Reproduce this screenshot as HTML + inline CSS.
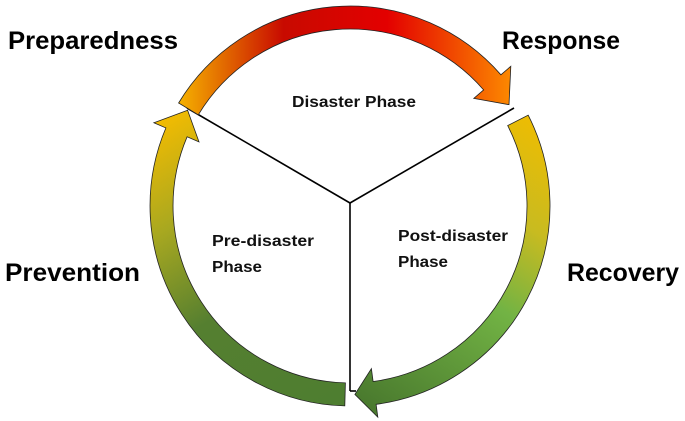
<!DOCTYPE html>
<html><head><meta charset="utf-8"><style>
html,body{margin:0;padding:0;background:#fff;}
svg{display:block;}
.big{font-family:"Liberation Sans",sans-serif;font-weight:bold;font-size:25px;fill:#000;}
.sm{font-family:"Liberation Sans",sans-serif;font-weight:bold;font-size:16px;fill:#111;}
</style></head><body>
<svg id="s" width="685" height="421" viewBox="0 0 685 421" xmlns="http://www.w3.org/2000/svg">
<defs>
<linearGradient id="gTop" gradientUnits="userSpaceOnUse" x1="180" y1="0" x2="525" y2="0">
<stop offset="0" stop-color="#f5b000"/><stop offset="0.3" stop-color="#c80a00"/><stop offset="0.6" stop-color="#e30000"/><stop offset="1" stop-color="#ff9800"/>
</linearGradient>
<linearGradient id="gRight" gradientUnits="userSpaceOnUse" x1="540" y1="115" x2="360" y2="400">
<stop offset="0" stop-color="#f0bc00"/><stop offset="0.3" stop-color="#c8bb20"/><stop offset="0.55" stop-color="#72b344"/><stop offset="1" stop-color="#4a7a2e"/>
</linearGradient>
<linearGradient id="gLeft" gradientUnits="userSpaceOnUse" x1="340" y1="400" x2="170" y2="110">
<stop offset="0" stop-color="#4e7e30"/><stop offset="0.4" stop-color="#557f30"/><stop offset="0.7" stop-color="#a8a820"/><stop offset="1" stop-color="#f5bc00"/>
</linearGradient>
</defs>
<g stroke="#000" stroke-width="1.6" fill="none">
<line x1="350" y1="203" x2="187" y2="108"/>
<line x1="350" y1="203" x2="514" y2="108"/>
<line x1="350" y1="203" x2="350" y2="391"/>
<line x1="350" y1="391" x2="356" y2="391"/>
</g>
<path id="a1" fill="url(#gTop)" stroke="#222" stroke-width="0.8"/>
<path id="a2" fill="url(#gRight)" stroke="#222" stroke-width="0.8"/>
<path id="a3" fill="url(#gLeft)" stroke="#222" stroke-width="0.8"/>
<text class="big" x="8" y="49" textLength="170" lengthAdjust="spacingAndGlyphs">Preparedness</text>
<text class="big" x="502" y="49" textLength="118" lengthAdjust="spacingAndGlyphs">Response</text>
<text class="big" x="5" y="281" textLength="135" lengthAdjust="spacingAndGlyphs">Prevention</text>
<text class="big" x="567" y="281" textLength="112" lengthAdjust="spacingAndGlyphs">Recovery</text>
<text class="sm" x="292" y="107" textLength="124" lengthAdjust="spacingAndGlyphs">Disaster Phase</text>
<text class="sm" x="212" y="246" textLength="102" lengthAdjust="spacingAndGlyphs">Pre-disaster</text>
<text class="sm" x="212" y="272" textLength="50" lengthAdjust="spacingAndGlyphs">Phase</text>
<text class="sm" x="398" y="241" textLength="110" lengthAdjust="spacingAndGlyphs">Post-disaster</text>
<text class="sm" x="398" y="267" textLength="50" lengthAdjust="spacingAndGlyphs">Phase</text>
</svg>
<script>
var cx=350,cy=206,ro=200,ri=177,rm=188.5;
function P(r,a){var t=a*Math.PI/180;return (cx+r*Math.cos(t)).toFixed(1)+","+(cy-r*Math.sin(t)).toFixed(1);}
function arrow(a0,a1,tip){
  var dir=a1<a0?1:0;
  var large=Math.abs(a1-a0)>180?1:0;
  var rev=dir?0:1;
  var d="M"+P(ro,a0)+" A"+ro+","+ro+" 0 "+large+" "+dir+" "+P(ro,a1)+
    " L"+P(ro+13,a1)+" L"+P(rm,tip)+" L"+P(ri-13,a1)+" L"+P(ri,a1)+
    " A"+ri+","+ri+" 0 "+large+" "+rev+" "+P(ri,a0)+" Z";
  return d;
}
document.getElementById("a1").setAttribute("d",arrow(149,41,32.5));
document.getElementById("a2").setAttribute("d",arrow(27,-82.5,-88.5));
document.getElementById("a3").setAttribute("d",arrow(268.5,157,149.5));
</script>
</body></html>
